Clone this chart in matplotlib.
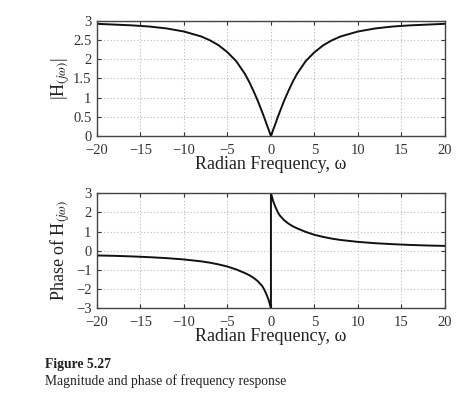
import matplotlib
matplotlib.use("Agg")
import matplotlib.pyplot as plt

plt.rcParams['font.family'] = ['Liberation Serif', 'DejaVu Serif']
plt.rcParams['mathtext.fontset'] = 'stix'

# values
omega = [-20, -18, -16, -14, -12, -10, -8, -7, -6, -5, -4, -3, -2.5, -2, -1.5,
         -1, -0.75, -0.5, -0.25, -0.1, 0, 0, 0.1, 0.25, 0.5, 0.75, 1, 1.5, 2,
         2.5, 3, 4, 5, 6, 7, 8, 10, 12, 14, 16, 18, 20]
magnitude = [2.92, 2.90, 2.88, 2.85, 2.80, 2.72, 2.59, 2.49, 2.36, 2.18, 1.95,
             1.62, 1.41, 1.17, 0.91, 0.62, 0.47, 0.31, 0.16, 0.06, 0.0, 0.0,
             0.06, 0.16, 0.31, 0.47, 0.62, 0.91, 1.17, 1.41, 1.62, 1.95, 2.18,
             2.36, 2.49, 2.59, 2.72, 2.80, 2.85, 2.88, 2.90, 2.92]
phase = [-0.25, -0.27, -0.30, -0.34, -0.39, -0.46, -0.56, -0.63, -0.72, -0.83,
         -0.98, -1.17, -1.28, -1.42, -1.60, -1.85, -2.05, -2.30, -2.60, -2.85,
         -3.0, 3.0, 2.85, 2.60, 2.30, 2.05, 1.85, 1.60, 1.42, 1.28, 1.17, 0.98,
         0.83, 0.72, 0.63, 0.56, 0.46, 0.39, 0.34, 0.30, 0.27, 0.25]

xticks = [-20, -15, -10, -5, 0, 5, 10, 15, 20]
mag_ticks = [0, 0.5, 1, 1.5, 2, 2.5, 3]
mag_labels = ['0', '0.5', '1', '1.5', '2', '2.5', '3']
phase_ticks = [-3, -2, -1, 0, 1, 2, 3]

fig = plt.figure(figsize=(4.74, 3.99), dpi=100)
ax1 = fig.add_axes([0.2046, 0.659, 0.734, 0.289])
ax2 = fig.add_axes([0.2046, 0.228, 0.734, 0.2875])

def style(ax):
    ax.set_xlim(-20, 20)
    ax.set_xticks(xticks)
    ax.grid(True, linestyle=(0, (1, 2)), color='#bbbbbb', linewidth=0.8)
    ax.tick_params(direction='in', top=True, right=True, labelsize=10.5,
                   length=3, colors='#333333')
    ax.tick_params(axis='x', pad=6)
    ax.tick_params(axis='y', pad=4)
    for s in ax.spines.values():
        s.set_color('#444444')
        s.set_linewidth(1.0)
    ax.set_xlabel('Radian Frequency, \u03c9', fontsize=13, labelpad=-1,
                  color='#222222')

ax1.plot(omega, magnitude, color='#111111', linewidth=1.4)
ax1.set_ylim(0, 3)
ax1.set_yticks(mag_ticks)
ax1.set_yticklabels(mag_labels)
style(ax1)
ax1.set_ylabel('|H$_{(j\\omega)}$|', fontsize=13, labelpad=1, color='#222222')

ax2.plot(omega, phase, color='#111111', linewidth=1.4)
ax2.set_ylim(-3, 3)
ax2.set_yticks(phase_ticks)
style(ax2)
ax2.set_ylabel('Phase of H$_{(j\\omega)}$', fontsize=13, labelpad=3,
               color='#222222')

fig.text(0.095, 0.078, 'Figure 5.27', fontsize=9.8, fontweight='bold',
         color='#222222')
fig.text(0.095, 0.035, 'Magnitude and phase of frequency response',
         fontsize=9.8, color='#222222')

fig.savefig('out.png', dpi=100)
